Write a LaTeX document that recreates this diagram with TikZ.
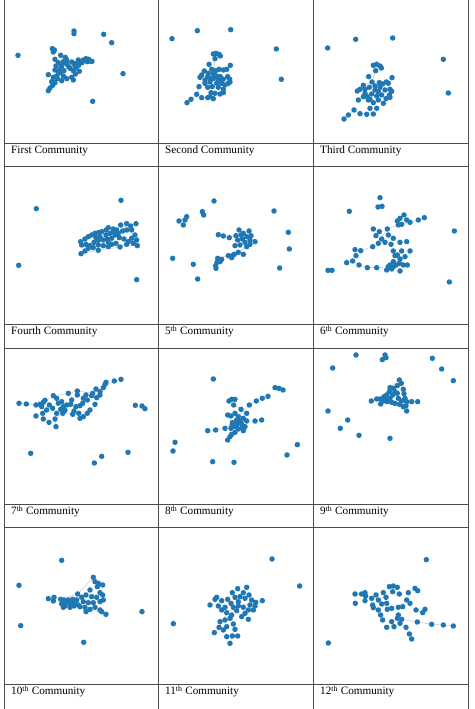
\documentclass[tikz,border=0pt]{standalone}
\usepackage{fontspec}
\setmainfont{Liberation Serif}
\definecolor{dotblue}{HTML}{1F77B4}
\newcommand\mypanel[4]{%
\begin{scope}[shift={(#1,709-#2)},xscale=1/3,yscale=-1/3]
\draw[edge] #3;
\foreach \p in {#4} \node[dot] at \p {};
\end{scope}}
\begin{document}
\begin{tikzpicture}[x=1pt,y=1pt,
  dot/.style={circle,fill=dotblue,draw=none,inner sep=0pt,minimum size=5.5pt},
  edge/.style={draw=gray!55,line width=0.35pt},
  rule/.style={draw=black!70,line width=0.9pt},
  lbl/.style={anchor=base west,inner sep=0pt,font=\fontsize{11.2}{13}\selectfont}]
\useasboundingbox (0,0) rectangle (474,709);
\fill[white] (0,0) rectangle (474,709);
% table rules
\foreach \x in {4.5,158.5,313.5,468} \draw[rule] (\x,0) -- (\x,709);
\foreach \y in {143,166,324,348,504,527,684} \draw[rule] (4.5,709-\y) -- (468,709-\y);
% labels
\node[lbl] (l1) at (11,709-153.5) {First Community};
\node[lbl] (l2) at (165,709-153.5) {Second Community};
\node[lbl] (l3) at (320,709-153.5) {Third Community};
\node[lbl] (l4) at (11,709-335) {Fourth Community};
\node[lbl] (l5) at (165,709-335) {5\textsuperscript{th} Community};
\node[lbl] (l6) at (320,709-335) {6\textsuperscript{th} Community};
\node[lbl] (l7) at (11,709-515) {7\textsuperscript{th} Community};
\node[lbl] (l8) at (165,709-515) {8\textsuperscript{th} Community};
\node[lbl] (l9) at (320,709-515) {9\textsuperscript{th} Community};
\node[lbl] (l10) at (11,709-695) {10\textsuperscript{th} Community};
\node[lbl] (l11) at (165,709-695) {11\textsuperscript{th} Community};
\node[lbl] (l12) at (320,709-695) {12\textsuperscript{th} Community};
% panel 1
\mypanel{0}{0}{(145,272)--(158,256)--(172,236)--(190,212)--(222,190)--(250,180)--(272,184) (157,146)--(182,166)--(200,192)--(228,204)--(220,240)}{(54,166),(222,93),(222,101),(311,103),(335,128),(369,221),(278,304),
(157,146),(163,150),(160,156),(182,166),(196,172),(200,180),(165,178),(190,185),(175,188),(168,198),(185,198),(200,192),(215,186),(222,190),(230,192),(240,185),(250,180),(258,176),(266,178),(272,184),(276,184),(262,185),(246,188),(236,196),(228,204),(220,212),(238,214),(226,222),(215,232),(220,240),(200,236),(190,228),(180,218),(170,228),(160,232),(145,224),(172,236),(165,248),(158,256),(150,264),(145,272),(180,208),(192,212),(206,200),(235,180),(175,215),(165,210),(155,245),(185,242),(210,205),(225,198)}
% panel 2
\mypanel{155}{0}{(96,308)--(108,298)--(125,283)--(132,260)--(150,240)--(175,222)--(183,160) (175,162)--(192,163)--(196,168)--(180,176)--(175,222)}{(51,116),(127,92),(227,89),(364,147),(379,238),
(175,162),(183,160),(192,163),(196,168),(180,176),(162,193),(226,196),(148,213),(160,220),(170,208),(182,212),(192,208),(205,210),(215,208),(135,232),(150,240),(158,230),(165,246),(175,236),(185,228),(196,230),(205,238),(218,230),(224,238),(225,246),(220,250),(200,250),(185,250),(172,260),(158,262),(190,262),(205,268),(168,278),(180,280),(195,282),(205,278),(132,260),(125,283),(140,293),(158,293),(175,296),(108,298),(96,308),(165,290),(150,250),(210,255),(140,225),(175,222),(190,240),(165,235)}
% panel 3
\mypanel{310}{0}{(102,357)--(115,345)--(132,330)--(150,341)--(170,343)--(190,342) (190,196)--(197,212)--(186,246)--(160,256)}{(53,144),(137,118),(248,114),(400,178),(415,279),
(190,196),(200,193),(210,198),(214,204),(197,212),(176,230),(186,246),(246,233),(229,246),(235,250),(160,256),(142,273),(150,268),(165,268),(178,262),(195,258),(208,248),(218,252),(240,268),(245,274),(238,285),(240,292),(228,296),(215,285),(205,275),(195,270),(185,282),(172,290),(165,280),(145,300),(175,300),(190,308),(205,300),(220,310),(200,325),(180,325),(170,343),(190,342),(150,341),(132,330),(115,345),(102,357),(160,290),(225,270),(180,298),(210,262),(200,288)}
% panel 4
\mypanel{0}{165}{(242,230)--(285,205)--(340,192)--(408,176) (245,240)--(310,242)--(412,242) (243,266)--(295,256)--(360,246)}{(109,131),(363,106),(56,301),(410,344),
(242,230),(255,222),(265,215),(275,210),(285,205),(295,203),(305,200),(318,195),(325,188),(340,192),(350,195),(362,180),(380,176),(392,183),(408,176),(245,240),(258,238),(270,242),(282,232),(295,226),(310,225),(322,222),(335,220),(345,210),(355,205),(368,198),(380,195),(395,195),(405,210),(410,225),(412,242),(400,235),(385,230),(372,222),(358,218),(348,235),(335,238),(325,245),(310,242),(295,240),(280,248),(265,250),(255,258),(243,266),(295,256),(325,232),(360,246),(380,238),(395,220),(340,200),(300,215),(288,218),(318,210),(330,205)}
% panel 5
\mypanel{155}{165}{(72,168)--(95,155) (85,180)--(90,165) (190,209)--(223,218)--(243,212) (183,310)--(188,280)--(220,272)--(250,262)--(275,245)}{(177,108),(357,138),(400,202),(403,252),(374,309),(53,280),(115,298),(128,342),
(72,168),(85,180),(90,165),(95,155),(142,140),(146,150),
(190,209),(205,213),(223,218),(243,212),(252,195),(258,210),(248,225),(265,205),(275,215),(282,198),(288,212),(300,230),(285,238),(270,232),(262,222),(275,245),(240,242),(250,262),(265,268),(238,268),(230,278),(232,272),(220,272),(200,283),(188,280),(186,292),(182,302),(183,310),(195,290),(255,240),(285,225)}
% panel 6
\mypanel{310}{165}{(54,316)--(66,316) (110,293)--(128,288)--(147,300)--(172,308)--(200,308)--(235,305) (188,245)--(205,235)--(232,192)--(265,180)--(300,172)--(325,165)--(343,158) (135,254)--(152,257)--(188,245)}{(210,98),(204,126),(216,124),(118,139),(433,198),(418,351),(54,316),(66,316),
(262,168),(270,160),(282,150),(290,165),(300,172),(275,178),(265,180),(325,165),(343,158),(190,192),(208,200),(198,212),(215,222),(232,192),(235,210),(250,220),(270,232),(290,230),(188,245),(205,235),(225,232),(243,238),(250,258),(262,270),(275,258),(300,258),(285,275),(270,282),(255,272),(250,290),(258,300),(268,295),(240,300),(230,315),(245,312),(270,318),(280,300),(292,300),(135,254),(152,257),(138,272),(128,288),(110,293),(147,300),(172,308),(200,308),(235,305),(250,305)}
% panel 7
\mypanel{0}{345}{(57,175)--(79,177)--(108,180)--(130,172)--(160,152)--(205,145)--(232,138)--(278,145)--(310,128)--(343,108)--(363,103) (168,245)--(165,222)--(188,205)--(236,205)--(270,195)--(285,178)}{(92,325),(283,354),(305,334),(384,322),(406,181),(426,183),(435,191),
(57,175),(79,177),(108,180),(125,185),(120,178),(130,172),(135,166),(148,180),(160,152),(170,160),(175,175),(185,170),(205,145),(215,165),(232,138),(232,150),(250,160),(258,150),(262,165),(278,145),(288,132),(300,140),(310,128),(315,118),(318,112),(343,108),(363,103),(275,152),(290,158),(300,150),(285,178),(270,195),(262,205),(250,215),(240,220),(236,205),(222,198),(212,178),(200,180),(190,185),(182,193),(188,205),(170,205),(165,222),(168,245),(147,232),(130,222),(108,213),(128,205),(140,195),(218,208),(248,175),(240,182),(228,185),(195,196),(158,190)}
% panel 8
\mypanel{155}{345}{(158,257)--(182,255)--(210,250)--(232,233) (250,215)--(283,180)--(304,168)--(322,160)--(339,154) (360,128)--(372,130)--(384,135) (236,180)--(258,193)--(275,205) (300,228)--(320,225)}{(175,102),(60,292),(54,318),(173,350),(237,352),(396,330),(427,299),
(360,128),(372,130),(384,135),(339,154),(322,160),(304,168),(283,180),
(222,168),(230,163),(240,163),(236,180),(258,193),(275,205),(218,210),(228,213),(240,205),(250,215),(265,220),(275,228),(232,233),(245,240),(258,233),(270,245),(265,257),(250,252),(240,262),(228,250),(300,228),(320,225),(210,250),(182,255),(158,257),(230,268),(225,275),(218,285),(245,225),(260,238),(255,228),(238,245),(232,240),(248,232),(262,246)}
% panel 9
\mypanel{310}{345}{(184,168)--(200,162)--(222,155)--(240,128)--(268,105)--(282,146)--(290,170)--(323,170) (212,177)--(255,175)--(290,198)}{(138,30),(225,30),(228,38),(217,44),(367,40),(395,72),(430,107),(68,69),(54,198),(113,225),(91,250),(147,271),(240,280),
(268,105),(274,115),(262,122),(250,130),(240,128),(280,133),(282,146),(285,160),(290,170),(305,170),(323,170),(288,182),(290,198),(280,185),(268,178),(255,175),(245,172),(232,170),(220,168),(210,162),(200,162),(184,168),(212,177),(222,155),(230,150),(238,140),(248,150),(255,140),(262,145),(275,168),(265,160),(240,160),(228,162)}
% panel 10
\mypanel{0}{520}{(145,236)--(162,232)--(182,238)--(233,222)--(280,172) (185,252)--(240,260)--(318,283)}{(185,121),(57,196),(62,317),(251,367),(426,275),
(280,172),(285,185),(295,190),(308,195),(292,200),(270,210),(300,218),(308,225),(310,240),(300,245),(290,232),(275,230),(258,225),(233,222),(245,232),(230,240),(218,238),(205,240),(192,240),(182,238),(162,232),(145,236),(160,243),(185,252),(195,258),(210,262),(222,258),(240,260),(255,262),(270,268),(285,262),(300,270),(318,283),(305,275),(258,275),(265,248),(250,245),(235,255),(210,250),(200,248),(190,262),(225,248),(280,248),(215,245)}
% panel 11
\mypanel{155}{520}{(178,338)--(192,322)--(215,278)--(250,258)--(302,247)--(322,242) (225,370)--(232,348)--(240,328)--(230,285)}{(351,117),(434,198),(55,311),
(248,206),(275,202),(232,218),(265,218),(282,225),(185,232),(180,238),(200,242),(218,238),(240,232),(255,230),(270,235),(290,240),(302,247),(322,242),(165,255),(190,258),(210,262),(235,262),(250,258),(265,262),(280,270),(295,270),(300,258),(285,255),(215,278),(230,285),(245,272),(260,290),(280,298),(195,305),(210,300),(225,295),(235,312),(240,328),(215,320),(205,330),(192,322),(178,338),(215,350),(232,348),(248,348),(225,370),(200,270),(270,280),(250,245),(228,250)}
% panel 12
\mypanel{310}{520}{(135,222)--(167,228)--(205,240)--(248,215)--(268,222) (275,298)--(322,306)--(365,313)--(400,315)--(430,318) (288,322)--(298,342)--(305,357) (318,270)--(338,278)}{(349,119),(55,369),
(135,222),(155,222),(165,218),(167,228),(185,235),(198,225),(220,218),(238,200),(250,198),(262,202),(248,215),(268,222),(295,218),(315,205),(323,212),(136,250),(165,242),(188,255),(190,263),(205,240),(215,252),(228,232),(230,250),(245,265),(265,262),(278,260),(290,240),(300,250),(232,268),(205,270),(212,285),(218,300),(230,322),(245,305),(252,320),(262,295),(270,310),(265,285),(288,322),(298,342),(305,357),(318,270),(338,278),(345,268),(322,306),(365,313),(400,315),(430,318),(275,298)}
\end{tikzpicture}
\end{document}
